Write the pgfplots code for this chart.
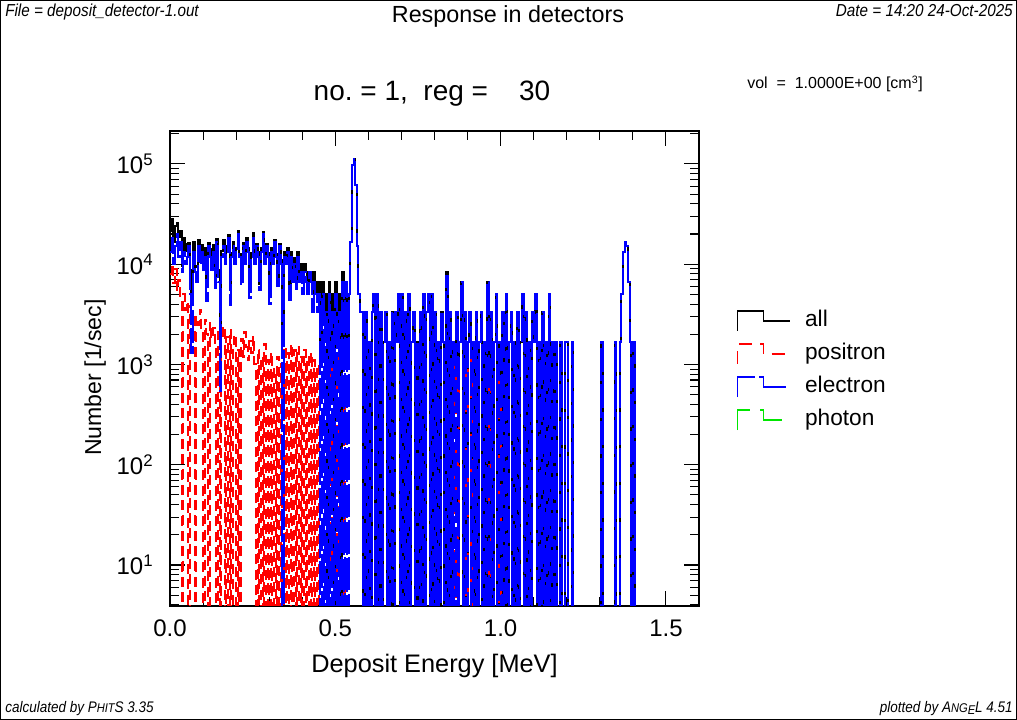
\documentclass[border=0pt]{standalone}
\usepackage{pgfplots}
\pgfplotsset{compat=1.18}
\usepackage{pgfplotstable}
\usepackage{fontspec}
\setmainfont{Liberation Sans}
\newfontfamily\condfont[FakeStretch=0.88]{Liberation Sans}
\newcommand\hdr{\condfont\itshape\fontsize{13}{13}\selectfont}
\newcommand\ftr{\condfont\itshape\fontsize{11.5}{11.5}\selectfont}
\definecolor{cAll}{RGB}{0,0,0}
\definecolor{cPos}{RGB}{255,0,0}
\definecolor{cEle}{RGB}{0,0,255}
\definecolor{cPho}{RGB}{0,230,0}

\pgfplotstableread{
x a p e
0.000 21360 8000 13360
0.005 28370 10000 18370
0.010 16520 6500 10020
0.015 24030 9000 15030
0.020 25540 5500 20040
0.025 18690 7000 11690
0.030 21200 4500 16700
0.035 9500 1 8350
0.040 18360 5000 13360
0.045 13520 3500 10020
0.050 15890 4200 11690
0.055 16200 1 15030
0.060 8810 3800 5010
0.065 4100 2800 1300
0.070 16660 3300 13360
0.075 9400 1 8350
0.080 9680 3000 6680
0.085 17530 2500 15030
0.090 13520 3500 10020
0.095 15560 2200 13360
0.100 9900 1 8350
0.105 14490 2800 11690
0.110 6300 2000 4300
0.115 16100 1 15030
0.120 14290 2600 11690
0.125 10150 1800 8350
0.130 15660 2300 13360
0.135 7300 1500 5800
0.140 17900 1 16700
0.145 8780 2100 6680
0.150 2210 1 540
0.155 13390 1700 11690
0.160 17430 2400 15030
0.165 11200 1 10020
0.170 15260 1900 13360
0.175 19500 1 18370
0.180 6100 2200 3900
0.185 12800 1 11690
0.190 16630 1600 15030
0.195 12020 2000 10020
0.200 14500 1 13360
0.205 21440 1400 20040
0.210 12700 1 11690
0.215 8000 1800 6200
0.220 16230 1200 15030
0.225 12120 2100 10020
0.230 18200 1500 16700
0.235 14460 1100 13360
0.240 6300 1700 4600
0.245 12990 1300 11690
0.250 20270 1900 18370
0.255 11020 1000 10020
0.260 16000 1 15030
0.265 13090 1400 11690
0.270 6400 1 5500
0.275 14560 1200 13360
0.280 21000 1 20040
0.285 11620 1600 10020
0.290 15900 1 15030
0.295 12790 1100 11690
0.300 5000 1 4000
0.305 14660 1300 13360
0.310 10900 1 10020
0.315 17600 900 16700
0.320 12500 1 11690
0.325 7200 1200 6000
0.330 15800 1 15030
0.335 11020 1000 10020
0.340 1670 1 1
0.345 13190 1500 11690
0.350 10800 1 10020
0.355 14660 1300 13360
0.360 5200 1 4400
0.365 13290 1600 11690
0.370 7500 1 6680
0.375 11420 1400 10020
0.380 6600 1 5600
0.385 13190 1500 11690
0.390 8350 1 6680
0.395 10020 1200 8350
0.400 6680 1 5010
0.405 10020 1400 8350
0.410 8350 1 6680
0.415 6680 1200 5010
0.420 8350 1 8350
0.425 8350 1300 6680
0.430 5010 1 3340
0.435 8350 1100 6680
0.440 6680 1 5010
0.445 5010 1000 3340
0.450 6680 1 5010
0.455 1670 1 1
0.460 6680 1 5010
0.465 3340 1 1
0.470 5010 1 3340
0.475 1 1 1
0.480 6680 1 5010
0.485 1670 1000 1
0.490 5010 1 3340
0.495 1 1 1
0.500 6680 1 5010
0.505 1670 1200 1
0.510 5010 1 3340
0.515 1 1 1
0.520 8350 1 6680
0.525 1670 1000 1
0.530 6680 1 6680
0.535 1670 1 1
0.540 5010 1 5010
0.545 16700 1 16700
0.550 96860 1 96860
0.555 111890 1 111890
0.560 61790 1 61790
0.565 15030 1 15030
0.570 5010 1 5010
0.575 3340 1 3340
0.580 3340 1 3340
0.585 1 1 1
0.590 3340 1 3340
0.595 1 1 1
0.600 1670 1 1670
0.605 1 1 1
0.610 3340 1 3340
0.615 5010 1 5010
0.620 1 1 1
0.625 5010 1 5010
0.630 1 1 1
0.635 3340 1 3340
0.640 1 1 1
0.645 1670 1 1670
0.650 3340 1 3340
0.655 1 1 1
0.660 1670 1 1670
0.665 1 1 1
0.670 3340 1 3340
0.675 1 1 1
0.680 3340 1 3340
0.685 1670 1 1670
0.690 5010 1 5010
0.695 1 1 1
0.700 5010 1 5010
0.705 1 1 1
0.710 3340 1 3340
0.715 1 1 1
0.720 5010 1 5010
0.725 1 1 1
0.730 1670 1 1670
0.735 3340 1 3340
0.740 1 1 1
0.745 1670 1 1670
0.750 1 1 1
0.755 3340 1 3340
0.760 1 1 1
0.765 5010 1 5010
0.770 1 1 1
0.775 3340 1 3340
0.780 5010 1 5010
0.785 1 1 1
0.790 5010 1 5010
0.795 1 1 1
0.800 3340 1 3340
0.805 1 1 1
0.810 1670 1 1670
0.815 1 1 1
0.820 3340 1 3340
0.825 1670 1 1670
0.830 1 1 1
0.835 8350 1 7700
0.840 1 1 1
0.845 3340 1 3340
0.850 1 1 1
0.855 1670 1 1670
0.860 1670 1100 1
0.865 3340 1 3340
0.870 1 1100 1
0.875 1670 1 1670
0.880 6680 1 6680
0.885 1 1 1
0.890 3340 1 3340
0.895 1 1100 1
0.900 1670 1 1670
0.905 3340 1 3340
0.910 1 1100 1
0.915 1670 1 1670
0.920 1 1 1
0.925 3340 1 3340
0.930 1 1 1
0.935 1670 1 1670
0.940 3340 1 3340
0.945 1 1 1
0.950 1670 1 1670
0.955 1 1 1
0.960 6680 1 6680
0.965 1 1100 1
0.970 3340 1 3340
0.975 1 1 1
0.980 1670 1 1670
0.985 5010 1 5010
0.990 1 1 1
0.995 1670 1100 1670
1.000 1 1 1
1.005 3340 1 3340
1.010 1 1 1
1.015 5010 1 5010
1.020 1 1 1
1.025 1670 1 1670
1.030 3340 1 3340
1.035 1 1 1
1.040 1670 1 1670
1.045 1 1 1
1.050 3340 1 3340
1.055 1 1 1
1.060 1670 1 1670
1.065 5010 1 5010
1.070 1 1 1
1.075 3340 1 3340
1.080 1 1 1
1.085 1670 1 1670
1.090 1 1 1
1.095 3340 1 3340
1.100 1670 1 1670
1.105 5010 1 5010
1.110 1 1 1
1.115 1670 1 1670
1.120 1 1 1
1.125 3340 1 3340
1.130 1 1 1
1.135 1670 1 1670
1.140 1 1 1
1.145 5010 1 5010
1.150 1 1 1
1.155 1670 1 1670
1.160 1 1 1
1.165 1670 1 1670
1.170 1 1 1
1.180 1670 1 1670
1.185 1 1 1
1.195 1670 1 1670
1.200 1670 1 1670
1.205 1 1 1
1.215 1670 1 1670
1.220 1 1 1
1.305 1670 1 1670
1.310 1 1 1
1.345 1670 1 1670
1.350 1 1 1
1.360 1670 1 1670
1.365 5010 1 5010
1.370 13360 1 13360
1.375 16700 1 16700
1.380 15030 1 15030
1.385 6680 1 6680
1.390 1670 1 1670
1.395 1 1 1
1.400 1670 1 1670
1.405 1 1 1
1.600 1 1 1
}\data

\begin{document}
\begin{tikzpicture}
\useasboundingbox (0,0) rectangle (762.75pt,540pt);
\draw[line width=1pt] (0.5pt,0.5pt) rectangle (762.25pt,539.5pt);
\node[anchor=base west, inner sep=0pt, font=\hdr] at (3.75pt,527.25pt) {File = deposit\_detector-1.out};
\node[anchor=base east, inner sep=0pt, font=\hdr] at (759.75pt,527.25pt) {Date = 14:20 24-Oct-2025};
\node[anchor=base, inner sep=0pt, font=\fontsize{17.5}{17.5}\selectfont] at (381pt,522.75pt) {Response in detectors};
\node[anchor=base, inner sep=0pt, font=\fontsize{21}{21}\selectfont] at (324pt,464.25pt) {no.\ =\ 1,\ \ reg\ =\ \ \ \ 30};
\node[anchor=base west, inner sep=0pt, font=\fontsize{12}{12}\selectfont] at (560.25pt,473.25pt) {vol\ \ =\ \ 1.0000E+00 [cm\textsuperscript{3}]};
\node[anchor=base west, inner sep=0pt, font=\ftr] at (3.75pt,5.25pt) {calculated by P{\fontsize{9.5}{9.5}\selectfont HIT}S 3.35};
\node[anchor=base east, inner sep=0pt, font=\ftr] at (759.75pt,5.25pt) {plotted by A{\fontsize{9.5}{9.5}\selectfont NG\raisebox{-1.5pt}{E}}L 4.51};
\begin{axis}[
  scale only axis, width=396.75pt, height=356.25pt,
  at={(127.5pt,85.5pt)}, anchor=south west,
  xmin=0, xmax=1.6, ymode=log, ymin=3.9, ymax=2.13e5,
  xtick={0,0.5,1,1.5}, xticklabels={0.0,0.5,1.0,1.5},
  minor xtick={0.1,0.2,0.3,0.4,0.6,0.7,0.8,0.9,1.1,1.2,1.3,1.4},
  ytick={10,100,1000,10000,100000},
  yticklabels={10\textsuperscript{1},10\textsuperscript{2},10\textsuperscript{3},10\textsuperscript{4},10\textsuperscript{5}},
  minor ytick={4,5,6,7,8,9,20,30,40,50,60,70,80,90,200,300,400,500,600,700,800,900,2000,3000,4000,5000,6000,7000,8000,9000,20000,30000,40000,50000,60000,70000,80000,90000,200000},
  tick align=inside, major tick length=11pt, minor tick length=6.5pt,
  every tick/.style={black, line width=0.8pt},
  axis line style={line width=1.2pt},
  tick label style={font=\fontsize{18}{18}\selectfont},
  xticklabel style={yshift=-6.75pt},
  yticklabel style={xshift=-9pt},
  xlabel={Deposit Energy [MeV]}, ylabel={Number [1/sec]},
  xlabel style={font=\fontsize{19}{19}\selectfont, at={(axis description cs:0.5,-0.141)}, anchor=base},
  ylabel style={font=\fontsize{17.3}{17.3}\selectfont, at={(axis description cs:-0.1304,0.481)}, anchor=base},
  legend image code/.code={\draw[#1] (0pt,-7.5pt) -- (0pt,7.5pt) -- (19.5pt,7.5pt) -- (19.5pt,0pt) -- (39pt,0pt);},
  legend style={at={(axis description cs:1.0718,0.623)}, anchor=north west, draw=none, fill=none,
    inner sep=0pt, outer sep=0pt, font=\fontsize{17}{17}\selectfont, row sep=8.75pt, column sep=11pt,
    nodes={inner sep=0pt, text height=12pt, text depth=4pt}},
  legend cell align=left,
]
\addplot[color=cAll, line width=1.5pt, const plot mark left, forget plot] table[x=x,y=a]{\data};
\addplot[color=cPos, line width=1.5pt, dash pattern=on 7.5pt off 4pt, const plot mark left, forget plot] table[x=x,y=p]{\data};
\addplot[color=cEle, line width=1.5pt, dash pattern=on 25pt off 2.5pt, const plot mark left, forget plot] table[x=x,y=e]{\data};
\addlegendimage{draw=cAll, line width=1.1pt}
\addlegendentry{all}
\addlegendimage{draw=cPos, line width=1.1pt, dash pattern=on 10pt off 6pt}
\addlegendentry{positron}
\addlegendimage{draw=cEle, line width=1.1pt, dash pattern=on 28pt off 3pt}
\addlegendentry{electron}
\addlegendimage{draw=cPho, line width=1.1pt, dash pattern=on 24pt off 8pt}
\addlegendentry{photon}
\end{axis}
\end{tikzpicture}
\end{document}
